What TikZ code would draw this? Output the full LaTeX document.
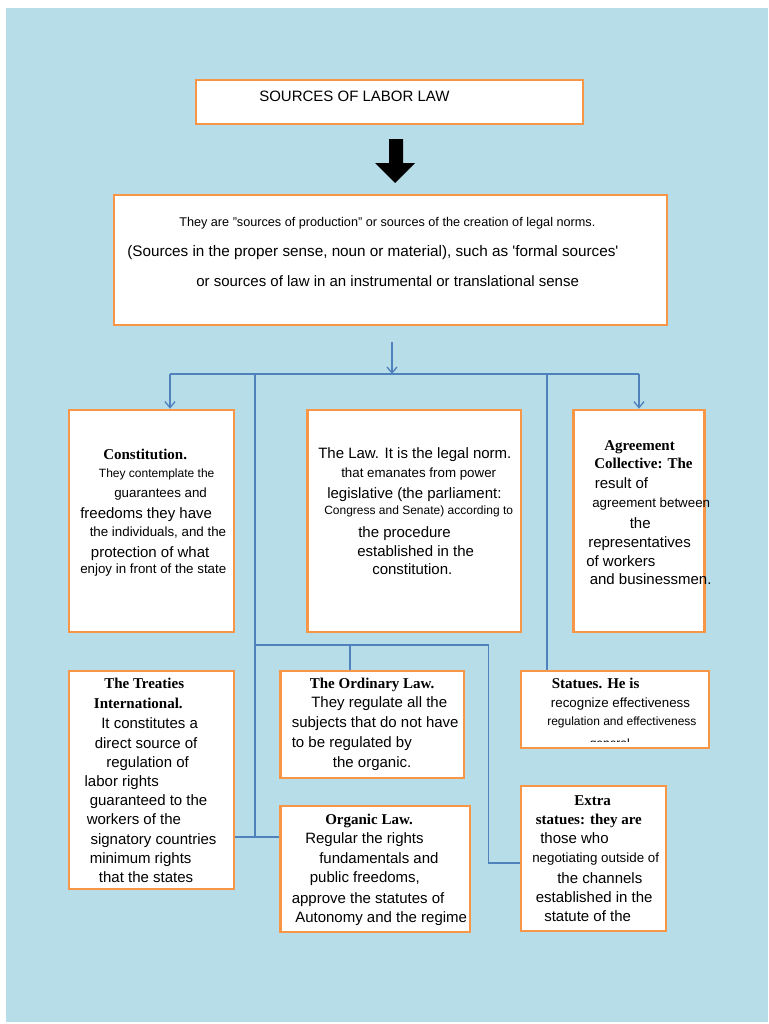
\documentclass[tikz,border=0pt]{standalone}
\usepackage{fontspec}
\setmainfont{Liberation Sans}
\newfontfamily\headfont{Liberation Serif}
\usetikzlibrary{arrows.meta,fit}
\definecolor{sky}{HTML}{B7DDE8}
\definecolor{rim}{HTML}{F79646}
\definecolor{wire}{HTML}{4F81BD}
\tikzset{
  panel/.style={draw=rim,fill=white,line width=2pt,inner sep=0pt},
  link/.style={draw=wire,line width=1pt},
  tip/.style={-{Straight Barb[length=4.5pt,width=7.5pt]}},
  txt/.style={anchor=base west,inner sep=0pt},
  lg/.style={txt,font=\fontsize{11.25}{13}\selectfont},
  md/.style={txt,font=\fontsize{10}{12}\selectfont},
  sm/.style={txt,font=\fontsize{9}{11}\selectfont},
  hd/.style={txt,font=\headfont\bfseries\fontsize{11.25}{13}\selectfont},
  deflg/.style={txt,font=\fontsize{11.45}{13}\selectfont},
  defsm/.style={txt,font=\fontsize{9.5}{11}\selectfont},
}
\begin{document}
\begin{tikzpicture}[x=0.75pt,y=-0.75pt]
  \useasboundingbox (0,0) rectangle (768,1024);
  \fill[white] (0,0) rectangle (768,1024);
  \fill[sky] (6,8) rectangle (768,1022);
  % boxes
  \node[panel,fit={(196,80) (583,124)}] (title) {};
  \node[panel,fit={(114,195) (667,325)}] (def) {};
  \node[panel,fit={(69,410) (234,632)}] (con) {};
  \node[panel,fit={(307.5,410) (521,632)}] (law) {};
  \node[panel,fit={(573.5,410) (704.5,632)}] (agr) {};
  \node[panel,fit={(69,671) (234,889)}] (tre) {};
  \node[panel,fit={(280.5,671) (464,778)}] (ord) {};
  \node[panel,fit={(521,671) (709,748)}] (sta) {};
  \node[panel,fit={(280.5,806) (470,932)}] (org) {};
  \node[panel,fit={(521,786) (666,931)}] (ext) {};
  % big arrow
  \fill (389,139) -- (403,139) -- (403,163) -- (415,163) -- (395,183)
    -- (375,163) -- (389,163) -- cycle;
  % connectors
  \coordinate (src) at (392,342);
  \coordinate (bus) at (392,374);
  \coordinate (busL) at (170,374);
  \coordinate (busR) at (639,374);
  \coordinate (spL) at (255,374);
  \coordinate (spR) at (547,374);
  \coordinate (jTre) at (255,837);
  \coordinate (rail) at (255,645);
  \coordinate (dOrd) at (350,645);
  \coordinate (dExt) at (488.5,645);
  \coordinate (jExt) at (488.5,863);
  \draw[link,tip] (src) -- (bus);
  \draw[link] (busL) -- (busR);
  \draw[link,tip] (busL) -- (busL |- con.north);
  \draw[link,tip] (busR) -- (busR |- agr.north);
  \draw[link] (spL) -- (jTre);
  \draw[link] (tre.east |- jTre) -- (org.west |- jTre);
  \draw[link] (spR) -- (spR |- sta.north);
  \draw[link] (rail) -- (dExt) -- (jExt) -- (ext.west |- jExt);
  \draw[link] (dOrd) -- (dOrd |- ord.north);
  % texts
  \node[lg] (t0) at (259,101) {SOURCES OF LABOR LAW};
  \foreach \x/\y/\s/\t [count=\i] in {
    179/226.7/defsm/{They are "sources of production" or sources of the creation of legal norms.},
    127/256.7/deflg/{(Sources in the proper sense, noun or material), such as \textquotesingle formal sources\textquotesingle},
    196/286.7/lg/{or sources of law in an instrumental or translational sense}}
    \node[\s] (d\i) at (\x,\y) {\t};
  \foreach \x/\y/\s/\t [count=\i] in {
    103/459/hd/{Constitution.},
    98.7/477/sm/{They contemplate the},
    114/497/md/{guarantees and},
    80/518/lg/{freedoms they have},
    89.5/536/md/{the individuals, and the},
    90.7/557/lg/{protection of what},
    80/573/md/{enjoy in front of the state}}
    \node[\s] (c\i) at (\x,\y) {\t};
  \foreach \x/\y/\s/\t [count=\i] in {
    318/458/lg/{The Law. It is the legal norm.},
    341/477/md/{that emanates from power},
    327/498/lg/{legislative (the parliament:},
    324/514/sm/{Congress and Senate) according to},
    358/537/lg/{the procedure},
    357/556/lg/{established in the},
    372/574/lg/{constitution.}}
    \node[\s] (l\i) at (\x,\y) {\t};
  \foreach \x/\y/\s/\t [count=\i] in {
    604/450/hd/{Agreement},
    594/468/hd/{Collective: The},
    594.5/488/lg/{result of},
    592/507/md/{agreement between},
    629.5/528/lg/{the},
    588/547/lg/{representatives},
    586/566/lg/{of workers},
    589.5/584/lg/{and businessmen.}}
    \node[\s] (a\i) at (\x,\y) {\t};
  \foreach \x/\y/\s/\t [count=\i] in {
    104/688/hd/{The Treaties},
    93.7/708/hd/{International.},
    101/728/lg/{It constitutes a},
    94.5/748/lg/{direct source of},
    106/767/lg/{regulation of},
    84.4/786/lg/{labor rights},
    89.5/805/lg/{guaranteed to the},
    86.5/824/lg/{workers of the},
    90.3/844/lg/{signatory countries},
    89.5/863/lg/{minimum rights},
    98.7/882/lg/{that the states}}
    \node[\s] (r\i) at (\x,\y) {\t};
  \foreach \x/\y/\s/\t [count=\i] in {
    309.6/688/hd/{The Ordinary Law.},
    311/707/lg/{They regulate all the},
    291.5/727/lg/{subjects that do not have},
    291.5/747/lg/{to be regulated by},
    332.7/767/lg/{the organic.}}
    \node[\s] (o\i) at (\x,\y) {\t};
  \foreach \x/\y/\s/\t [count=\i] in {
    551.6/688/hd/{Statues. He is},
    550.7/707/md/{recognize effectiveness},
    547/725/sm/{regulation and effectiveness}}
    \node[\s] (s\i) at (\x,\y) {\t};
  \begin{scope}
    \clip (521,671) rectangle (709,741);
    \node[sm] (s4) at (589.5,747) {general};
  \end{scope}
  \foreach \x/\y/\s/\t [count=\i] in {
    325/824/hd/{Organic Law.},
    305/843/lg/{Regular the rights},
    319/863/lg/{fundamentals and},
    309.6/882/lg/{public freedoms,},
    291.5/903/lg/{approve the statutes of},
    295/922/lg/{Autonomy and the regime}}
    \node[\s] (g\i) at (\x,\y) {\t};
  \foreach \x/\y/\s/\t [count=\i] in {
    574/805/hd/{Extra},
    535.6/824/hd/{statues: they are},
    540/843/lg/{those who},
    532/862/md/{negotiating outside of},
    557/883/lg/{the channels},
    535.6/902/lg/{established in the},
    544/921/lg/{statute of the}}
    \node[\s] (e\i) at (\x,\y) {\t};
\end{tikzpicture}
\end{document}
